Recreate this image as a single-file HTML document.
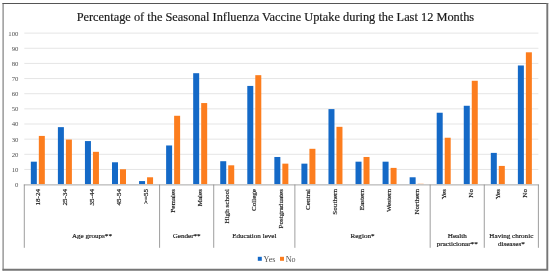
<!DOCTYPE html><html><head><meta charset="utf-8"><title>chart</title><style>html,body{margin:0;padding:0;background:#fff}svg{display:block}text{font-family:"Liberation Serif","Times New Roman",serif;fill:#1a1a1a;stroke:#1a1a1a;stroke-width:0.18px}</style></head><body>
<svg width="550" height="273" viewBox="0 0 550 273">
<rect x="0" y="0" width="550" height="273" fill="#fff"/>
<line x1="3.1" x2="3.1" y1="3" y2="270.6" stroke="#808080" stroke-width="1.2"/>
<line x1="2.5" x2="548.2" y1="3.5" y2="3.5" stroke="#555" stroke-width="1.1"/>
<path d="M2.5 269.7 H547.3 V3" fill="none" stroke="#767676" stroke-width="1.9"/>
<text x="275.4" y="21.3" font-size="12.36" text-anchor="middle" fill="#111">Percentage of the Seasonal Influenza Vaccine Uptake during the Last 12 Months</text>
<line x1="24.3" x2="538.4" y1="169.45" y2="169.45" stroke="#e5e5e5" stroke-width="1"/>
<line x1="24.3" x2="538.4" y1="154.30" y2="154.30" stroke="#e5e5e5" stroke-width="1"/>
<line x1="24.3" x2="538.4" y1="139.15" y2="139.15" stroke="#e5e5e5" stroke-width="1"/>
<line x1="24.3" x2="538.4" y1="124.00" y2="124.00" stroke="#e5e5e5" stroke-width="1"/>
<line x1="24.3" x2="538.4" y1="108.85" y2="108.85" stroke="#e5e5e5" stroke-width="1"/>
<line x1="24.3" x2="538.4" y1="93.70" y2="93.70" stroke="#e5e5e5" stroke-width="1"/>
<line x1="24.3" x2="538.4" y1="78.55" y2="78.55" stroke="#e5e5e5" stroke-width="1"/>
<line x1="24.3" x2="538.4" y1="63.40" y2="63.40" stroke="#e5e5e5" stroke-width="1"/>
<line x1="24.3" x2="538.4" y1="48.25" y2="48.25" stroke="#e5e5e5" stroke-width="1"/>
<line x1="24.3" x2="538.4" y1="33.10" y2="33.10" stroke="#e5e5e5" stroke-width="1"/>
<text transform="translate(18.4,187.05) scale(0.96,1)" font-size="7.0" text-anchor="end" style="fill:#4d4d4d;stroke:none">0</text>
<text transform="translate(18.4,171.90) scale(0.96,1)" font-size="7.0" text-anchor="end" style="fill:#4d4d4d;stroke:none">10</text>
<text transform="translate(18.4,156.75) scale(0.96,1)" font-size="7.0" text-anchor="end" style="fill:#4d4d4d;stroke:none">20</text>
<text transform="translate(18.4,141.60) scale(0.96,1)" font-size="7.0" text-anchor="end" style="fill:#4d4d4d;stroke:none">30</text>
<text transform="translate(18.4,126.45) scale(0.96,1)" font-size="7.0" text-anchor="end" style="fill:#4d4d4d;stroke:none">40</text>
<text transform="translate(18.4,111.30) scale(0.96,1)" font-size="7.0" text-anchor="end" style="fill:#4d4d4d;stroke:none">50</text>
<text transform="translate(18.4,96.15) scale(0.96,1)" font-size="7.0" text-anchor="end" style="fill:#4d4d4d;stroke:none">60</text>
<text transform="translate(18.4,81.00) scale(0.96,1)" font-size="7.0" text-anchor="end" style="fill:#4d4d4d;stroke:none">70</text>
<text transform="translate(18.4,65.85) scale(0.96,1)" font-size="7.0" text-anchor="end" style="fill:#4d4d4d;stroke:none">80</text>
<text transform="translate(18.4,50.70) scale(0.96,1)" font-size="7.0" text-anchor="end" style="fill:#4d4d4d;stroke:none">90</text>
<text transform="translate(18.4,35.55) scale(0.96,1)" font-size="7.0" text-anchor="end" style="fill:#4d4d4d;stroke:none">100</text>
<rect x="30.83" y="161.68" width="6.0" height="22.42" fill="#1469c7"/>
<rect x="38.83" y="135.92" width="6.0" height="48.18" fill="#fc7d1e"/>
<rect x="57.89" y="127.14" width="6.0" height="56.96" fill="#1469c7"/>
<rect x="65.89" y="139.56" width="6.0" height="44.54" fill="#fc7d1e"/>
<rect x="84.94" y="141.07" width="6.0" height="43.03" fill="#1469c7"/>
<rect x="92.94" y="151.83" width="6.0" height="32.27" fill="#fc7d1e"/>
<rect x="112.00" y="162.28" width="6.0" height="21.82" fill="#1469c7"/>
<rect x="120.00" y="169.25" width="6.0" height="14.85" fill="#fc7d1e"/>
<rect x="139.06" y="181.07" width="6.0" height="3.03" fill="#1469c7"/>
<rect x="147.06" y="177.28" width="6.0" height="6.82" fill="#fc7d1e"/>
<rect x="166.12" y="145.47" width="6.0" height="38.63" fill="#1469c7"/>
<rect x="174.12" y="115.77" width="6.0" height="68.33" fill="#fc7d1e"/>
<rect x="193.18" y="73.20" width="6.0" height="110.90" fill="#1469c7"/>
<rect x="201.18" y="103.05" width="6.0" height="81.05" fill="#fc7d1e"/>
<rect x="220.23" y="161.22" width="6.0" height="22.88" fill="#1469c7"/>
<rect x="228.23" y="165.31" width="6.0" height="18.79" fill="#fc7d1e"/>
<rect x="247.29" y="85.93" width="6.0" height="98.17" fill="#1469c7"/>
<rect x="255.29" y="75.17" width="6.0" height="108.93" fill="#fc7d1e"/>
<rect x="274.35" y="156.98" width="6.0" height="27.12" fill="#1469c7"/>
<rect x="282.35" y="163.65" width="6.0" height="20.45" fill="#fc7d1e"/>
<rect x="301.41" y="163.65" width="6.0" height="20.45" fill="#1469c7"/>
<rect x="309.41" y="148.80" width="6.0" height="35.30" fill="#fc7d1e"/>
<rect x="328.47" y="109.11" width="6.0" height="74.99" fill="#1469c7"/>
<rect x="336.47" y="126.83" width="6.0" height="57.27" fill="#fc7d1e"/>
<rect x="355.52" y="161.68" width="6.0" height="22.42" fill="#1469c7"/>
<rect x="363.52" y="156.98" width="6.0" height="27.12" fill="#fc7d1e"/>
<rect x="382.58" y="161.68" width="6.0" height="22.42" fill="#1469c7"/>
<rect x="390.58" y="167.89" width="6.0" height="16.21" fill="#fc7d1e"/>
<rect x="409.64" y="177.28" width="6.0" height="6.82" fill="#1469c7"/>
<rect x="417.64" y="183.80" width="6.0" height="0.30" fill="#fc7d1e"/>
<rect x="436.70" y="112.74" width="6.0" height="71.36" fill="#1469c7"/>
<rect x="444.70" y="137.74" width="6.0" height="46.36" fill="#fc7d1e"/>
<rect x="463.76" y="105.77" width="6.0" height="78.33" fill="#1469c7"/>
<rect x="471.76" y="80.78" width="6.0" height="103.32" fill="#fc7d1e"/>
<rect x="490.81" y="152.89" width="6.0" height="31.21" fill="#1469c7"/>
<rect x="498.81" y="165.92" width="6.0" height="18.18" fill="#fc7d1e"/>
<rect x="517.87" y="65.48" width="6.0" height="118.62" fill="#1469c7"/>
<rect x="525.87" y="52.30" width="6.0" height="131.80" fill="#fc7d1e"/>
<line x1="23.8" x2="538.9" y1="184.9" y2="184.9" stroke="#a6a6a6" stroke-width="1"/>
<line x1="24.30" x2="24.30" y1="184.6" y2="247.8" stroke="#858585" stroke-width="0.8"/>
<line x1="159.59" x2="159.59" y1="184.6" y2="247.8" stroke="#858585" stroke-width="0.8"/>
<line x1="213.71" x2="213.71" y1="184.6" y2="247.8" stroke="#858585" stroke-width="0.8"/>
<line x1="294.88" x2="294.88" y1="184.6" y2="247.8" stroke="#858585" stroke-width="0.8"/>
<line x1="430.17" x2="430.17" y1="184.6" y2="247.8" stroke="#858585" stroke-width="0.8"/>
<line x1="484.28" x2="484.28" y1="184.6" y2="247.8" stroke="#858585" stroke-width="0.8"/>
<line x1="538.40" x2="538.40" y1="184.6" y2="247.8" stroke="#858585" stroke-width="0.8"/>
<text transform="translate(39.73,189) rotate(-90)" font-size="7.1" text-anchor="end">18-24</text>
<text transform="translate(66.79,189) rotate(-90)" font-size="7.1" text-anchor="end">25-34</text>
<text transform="translate(93.84,189) rotate(-90)" font-size="7.1" text-anchor="end">35-44</text>
<text transform="translate(120.90,189) rotate(-90)" font-size="7.1" text-anchor="end">45-54</text>
<text transform="translate(147.96,189) rotate(-90)" font-size="7.1" text-anchor="end">&gt;=55</text>
<text transform="translate(175.02,189) rotate(-90)" font-size="7.1" text-anchor="end">Females</text>
<text transform="translate(202.08,189) rotate(-90)" font-size="7.1" text-anchor="end">Males</text>
<text transform="translate(229.13,189) rotate(-90)" font-size="7.1" text-anchor="end">High school</text>
<text transform="translate(256.19,189) rotate(-90)" font-size="7.1" text-anchor="end">College</text>
<text transform="translate(283.25,189) rotate(-90)" font-size="7.1" text-anchor="end">Postgraduates</text>
<text transform="translate(310.31,189) rotate(-90)" font-size="7.1" text-anchor="end">Central</text>
<text transform="translate(337.37,189) rotate(-90)" font-size="7.1" text-anchor="end">Southern</text>
<text transform="translate(364.42,189) rotate(-90)" font-size="7.1" text-anchor="end">Eastern</text>
<text transform="translate(391.48,189) rotate(-90)" font-size="7.1" text-anchor="end">Western</text>
<text transform="translate(418.54,189) rotate(-90)" font-size="7.1" text-anchor="end">Northern</text>
<text transform="translate(445.60,189) rotate(-90)" font-size="7.1" text-anchor="end">Yes</text>
<text transform="translate(472.66,189) rotate(-90)" font-size="7.1" text-anchor="end">No</text>
<text transform="translate(499.71,189) rotate(-90)" font-size="7.1" text-anchor="end">Yes</text>
<text transform="translate(526.77,189) rotate(-90)" font-size="7.1" text-anchor="end">No</text>
<text x="91.94" y="238.30" font-size="7.1" text-anchor="middle">Age groups**</text>
<text x="186.65" y="238.30" font-size="7.1" text-anchor="middle">Gender**</text>
<text x="254.29" y="238.30" font-size="7.1" text-anchor="middle">Education level</text>
<text x="362.52" y="238.30" font-size="7.1" text-anchor="middle">Region*</text>
<text x="457.23" y="238.30" font-size="7.1" text-anchor="middle">Health</text>
<text x="457.23" y="245.80" font-size="7.1" text-anchor="middle">practicionar**</text>
<text x="511.34" y="238.30" font-size="7.1" text-anchor="middle">Having chronic</text>
<text x="511.34" y="245.80" font-size="7.1" text-anchor="middle">diseases*</text>
<rect x="257.8" y="256.8" width="4" height="4" fill="#1469c7"/>
<text x="263.6" y="261.5" font-size="8.1" style="fill:#505050;stroke:none">Yes</text>
<rect x="280" y="256.8" width="4" height="4" fill="#fc7d1e"/>
<text x="285.7" y="261.5" font-size="8.1" style="fill:#505050;stroke:none">No</text>
</svg></body></html>
